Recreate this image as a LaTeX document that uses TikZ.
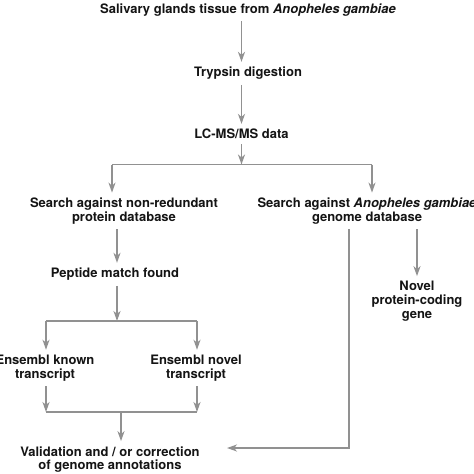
\documentclass[tikz,border=0pt]{standalone}
\usepackage{fontspec}
\setmainfont{TeX Gyre Heros}
\usetikzlibrary{arrows.meta}
\tikzset{>={Stealth[width=7pt,length=10pt,inset=3pt]}}
\definecolor{flowgray}{RGB}{145,145,145}

\begin{document}
\begin{tikzpicture}[x=1pt, y=-1pt,
  lbl/.style={align=center, inner sep=2pt, text=black!92,
    font=\fontsize{13}{13.8}\selectfont\bfseries},
  conn/.style={draw=flowgray, line width=1.6pt},
  toNode/.style={conn, ->, shorten <=3pt, shorten >=3pt},
  toLine/.style={conn, ->, shorten <=3pt}]

  \useasboundingbox (0,0) rectangle (474,474);

  \node[lbl] (tissue)  at (248, 9.8) {Salivary glands tissue from \textit{Anopheles gambiae}};
  \node[lbl] (trypsin) at (248, 73.3) {Trypsin digestion};
  \node[lbl] (lcms)    at (241.5, 134) {LC-MS/MS data};
  \node[lbl] (nrdb)    at (124, 211) {Search against non-redundant\\protein database};
  \node[lbl] (gdb)     at (367, 211) {Search against \textit{Anopheles gambiae}\\genome database};
  \node[lbl] (peptide) at (115, 274.3) {Peptide match found};
  \node[lbl] (known)   at (45, 368) {Ensembl known\\transcript};
  \node[lbl] (novel)   at (196, 368) {Ensembl novel\\transcript};
  \node[lbl] (gene)    at (417, 301.3) {Novel\\protein-coding\\gene};
  \node[lbl] (valid)   at (110, 459.5) {Validation and / or correction\\of genome annotations};

  %% junctions
  \coordinate (split1) at (241.5, 164.5);
  \coordinate (left1)  at (112, 164.5);
  \coordinate (right1) at (372, 164.5);
  \coordinate (split2) at (117, 321);
  \coordinate (left2)  at (46, 321);
  \coordinate (right2) at (197, 321);
  \coordinate (merge)  at (121, 412);
  \coordinate (left3)  at (46, 412);
  \coordinate (right3) at (197, 412);
  \coordinate (gcol)   at (349, 0);
  \coordinate (vin)    at (227, 448);

  \draw[toNode] (tissue.south -| lcms) -- (trypsin.north -| lcms);
  \draw[toNode] (trypsin.south -| lcms) -- (lcms.north);
  \draw[toLine] (lcms.south) -- (split1);
  \draw[conn] (left1) -- (right1);
  \draw[toNode, shorten <=0pt] (left1) -- (left1 |- nrdb.north);
  \draw[toNode, shorten <=0pt] (right1) -- (right1 |- gdb.north);

  \draw[toNode] (nrdb.south -| split2) -- (peptide.north -| split2);
  \draw[toLine] (peptide.south -| split2) -- (split2);
  \draw[conn] (left2) -- (right2);
  \draw[toNode, shorten <=0pt] (left2) -- (left2 |- known.north);
  \draw[toNode, shorten <=0pt] (right2) -- (right2 |- novel.north);

  \draw[toLine] (known.south -| left3) -- (left3);
  \draw[toLine] (novel.south -| right3) -- (right3);
  \draw[conn] (left3) -- (right3);
  \draw[toNode, shorten <=0pt] (merge) -- (valid.north -| merge);

  \draw[toNode] (gdb.south -| gene) -- (gene.north);
  \draw[toLine] (gdb.south -| gcol) |- (vin);

\end{tikzpicture}
\end{document}
